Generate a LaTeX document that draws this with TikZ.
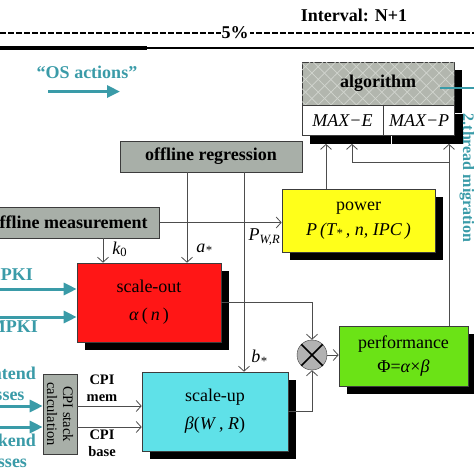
\documentclass[tikz,border=0pt]{standalone}
\usepackage{fontspec}
\setmainfont{Liberation Serif}
\usetikzlibrary{positioning, arrows.meta, calc, shadows, patterns.meta}
\definecolor{tealc}{HTML}{3A9BA8}
\definecolor{greyc}{HTML}{A8AFA8}
\definecolor{algc}{HTML}{B2B6AE}
\definecolor{hatch}{HTML}{D2D5CF}
\definecolor{redc}{HTML}{FF1616}
\definecolor{yellowc}{HTML}{FFFF1A}
\definecolor{cyanc}{HTML}{5FE1E8}
\definecolor{greenc}{HTML}{6BE316}
\definecolor{wirec}{HTML}{4D4D4D}
\definecolor{edge}{HTML}{3C3C3C}

\begin{document}
\begin{tikzpicture}[
  x=1pt, y=-1pt,
  font=\fontsize{18}{21}\selectfont,
  >={Straight Barb[length=5pt, width=11pt]},
  gbox/.style={draw=edge, line width=0.6pt, fill=greyc, font=\fontsize{18}{21}\selectfont\bfseries,
               minimum height=31pt, inner sep=0pt},
  fbox/.style={draw=edge, line width=0.6pt, inner sep=0pt, align=center,
               drop shadow={shadow xshift=8pt, shadow yshift=-8pt, fill=black, opacity=1}},
  cell/.style={fbox, fill=white, minimum height=30pt, font=\fontsize{18}{21}\selectfont\itshape},
  wire/.style={->, draw=wirec, line width=0.8pt},
  sig/.style={-{Triangle[length=13pt, width=12pt]}, draw=tealc, line width=3pt},
  note/.style={text=tealc, font=\fontsize{18}{21}\selectfont\bfseries, align=center, inner sep=0pt},
  lab/.style={font=\fontsize{18}{21}\selectfont\itshape, inner sep=1pt},
  small/.style={font=\fontsize{14.5}{17}\selectfont\bfseries, align=center, inner sep=0pt},
]
\useasboundingbox (0,0) rectangle (474,474);
\clip (0,0) rectangle (474,474);

% ---------------- interval header ----------------
\node[font=\fontsize{18}{21}\selectfont\bfseries] (intv) at (354,15) {Interval: N+1};
\draw[line width=1.2pt, dash pattern=on 5.5pt off 2.5pt] (0,33) -- (474,33);
\node[fill=white, inner sep=1pt, font=\fontsize{18}{21}\selectfont\bfseries] (pct) at (235,33) {5\%};
\draw[line width=3.4pt] (0,48) -- (147,48);
\draw[line width=2.4pt] (147,48) -- (474,48);

% ---------------- OS actions ----------------
\node[note] (os) at (87,72) {“OS actions”};
\draw[sig] ($(os.south)+(-39,13)$) -- ++(72,0);

% ---------------- algorithm ----------------
\node[fbox, fill=algc, minimum width=152pt, minimum height=43pt,
      font=\fontsize{18}{21}\selectfont\bfseries,
      postaction={pattern={Lines[angle=45, distance=9pt, line width=0.7pt]}, pattern color=hatch},
      postaction={pattern={Lines[angle=-45, distance=9pt, line width=0.7pt]}, pattern color=hatch}]
      (alg) at (378,83.5) {algorithm};
\node[cell, minimum width=81pt, anchor=north west] (maxe) at (alg.south west) {MAX−E};
\node[cell, minimum width=71pt, anchor=north west] (maxp) at (maxe.north east) {MAX−P};
\coordinate (algfoot) at ([yshift=-8pt]maxe.south);

% thread migration (runs off the right edge)
\coordinate (migr) at (440,88);
\draw[tealc, line width=2.2pt] (migr) -- ++(40,0);
\node[note, rotate=-90, font=\fontsize{16}{19}\selectfont\bfseries] (thr) at (467,178) {2.thread migration};

% ---------------- offline boxes ----------------
\node[gbox, minimum width=182pt] (reg) at (211,156.5) {offline regression};
\node[gbox, anchor=east, inner xsep=12pt] (meas) at (160,222.5) {offline measurement};

% ---------------- models ----------------
\node[fbox, fill=yellowc, minimum width=153pt, minimum height=63pt] (pow) at (358.5,220.5)
  {power\\[4pt]\itshape P\,(T\textsubscript{*}\,, n, IPC\,)};
\node[fbox, fill=redc, minimum width=144pt, minimum height=79pt] (out) at (149,302.5)
  {scale-out\\[7pt]\textit{α}\,(\,\textit{n}\,)};
\node[fbox, fill=cyanc, minimum width=146pt, minimum height=79pt] (up) at (215,411.5)
  {scale-up\\[7pt]\textit{β}(\textit{W}\,, \textit{R})};
\node[fbox, fill=greenc, minimum width=129pt, minimum height=60pt] (perf) at (403.5,356)
  {performance\\[3pt]Φ=\textit{α}×\textit{β}};

\node[draw=edge, fill=gray!60, circle, minimum size=30pt, inner sep=0pt] (mult) at (312,355) {};
\draw[line width=1.6pt] (mult.north west) -- (mult.south east) (mult.north east) -- (mult.south west);

% ---------------- CPI stack ----------------
\node[gbox, minimum width=34pt, minimum height=80pt] (cpi) at (60,414) {};
\node[rotate=-90, align=center, inner sep=0pt, font=\fontsize{14.5}{16}\selectfont] (cpit) at (cpi) {CPI stack\\calculation};
\node[small] (mem) at (102,388) {CPI\\mem};
\node[small] (base) at (102,443) {CPI\\base};

% ---------------- wires ----------------
\coordinate (kx) at (103,0);
\coordinate (ax) at (187,0);
\coordinate (bx) at (244,0);
\coordinate (px) at (326,0);
\coordinate (ex) at (352,0);
\coordinate (qx) at (449,0);
\coordinate (ty) at (0,162);

\draw[wire] (meas.east) -- (meas.east -| pow.west)
  node[lab, anchor=north east, pos=1, xshift=0pt, yshift=-5pt] {P\textsubscript{W,R}};
\draw[wire] (meas.south -| kx) -- (out.north -| kx)
  node[lab, right, pos=0.45, xshift=8pt] {k\textsubscript{\upshape 0}};
\draw[wire] (reg.south -| ax) -- (out.north -| ax)
  node[lab, right, pos=0.85, xshift=8pt] {a\textsubscript{*}};
\draw[wire] (reg.south -| bx) -- (up.north -| bx)
  node[lab, right, pos=0.93, xshift=6pt] {b\textsubscript{*}};
\draw[wire] (pow.north -| px) -- (px |- algfoot);
\draw[wire] (perf.north -| qx) -- (qx |- algfoot);
\draw[wire] (qx |- ty) -| (ex |- algfoot);
\draw[wire] (out.east) -| (mult.north);
\draw[wire] (up.east) -| (mult.south);
\draw[wire] (mult.east) -- (mult.east -| perf.west);
\draw[wire] ([yshift=8pt]cpi.east) -- ([yshift=8pt]cpi.east -| up.west);
\draw[wire] ([yshift=-13pt]cpi.east) -- ([yshift=-13pt]cpi.east -| up.west);

% ---------------- inputs (cut at the left edge) ----------------
\node[note, anchor=east] (mpk1) at (33,275) {MPKI};
\node[note, anchor=east] (mpk2) at (38,327) {MPKI};
\node[note] (fe) at (0,384) {Frontend\\misses};
\node[note] (be) at (2.5,451) {Backend\\misses};
\draw[sig] ([xshift=-85pt, yshift=13.5pt]out.west) -- ([yshift=13.5pt]out.west);
\draw[sig] ([xshift=-85pt, yshift=-14.5pt]out.west) -- ([yshift=-14.5pt]out.west);
\draw[sig] ([xshift=-50pt, yshift=8pt]cpi.west) -- ([yshift=8pt]cpi.west);
\draw[sig] ([xshift=-50pt, yshift=-13pt]cpi.west) -- ([yshift=-13pt]cpi.west);

\end{tikzpicture}
\end{document}
